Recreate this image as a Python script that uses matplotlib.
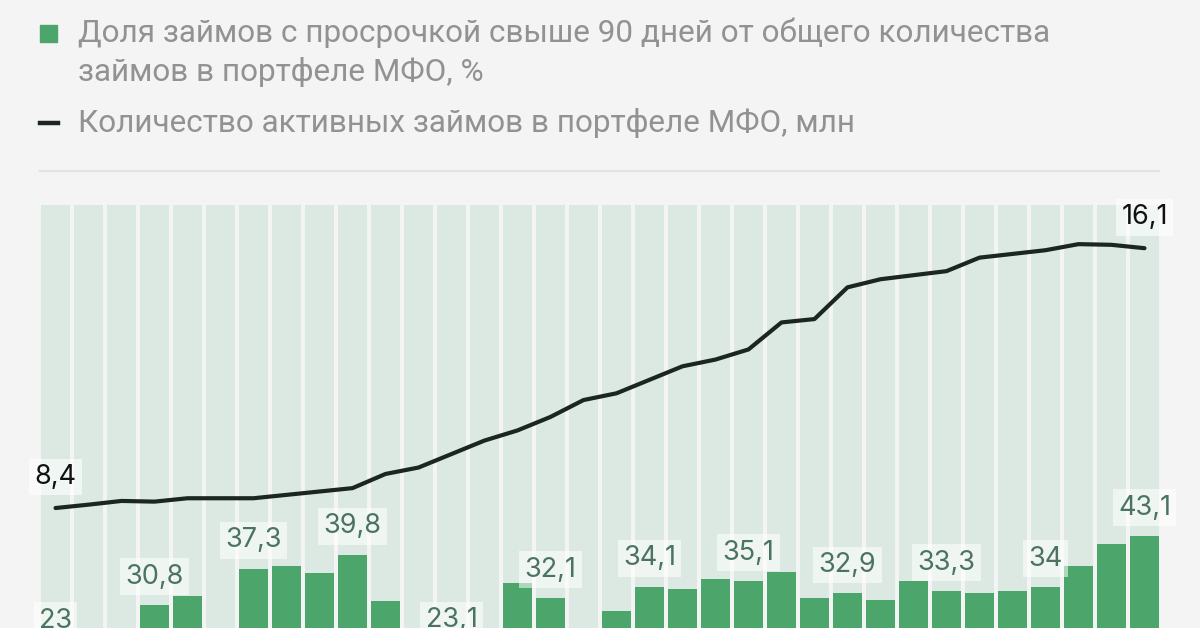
import matplotlib
matplotlib.use("Agg")
import matplotlib.pyplot as plt
from matplotlib.lines import Line2D
from matplotlib.patches import Rectangle
import numpy as np

# ---------------- data ----------------
overdue_share = [23, 24.5, 25.5, 30.8, 32.5, 26, 37.3, 37.7, 36.6, 39.8,
                 31.5, 25.5, 23.1, 24.5, 34.8, 32.1, 26.5, 29.8, 34.1, 33.7,
                 35.4, 35.1, 36.7, 32.0, 32.9, 31.7, 35.1, 33.3, 32.9, 33.3,
                 34, 37.7, 41.7, 43.1]
active_loans = [8.4, 8.5, 8.61, 8.59, 8.69, 8.69, 8.69, 8.79, 8.89, 8.99,
                9.41, 9.6, 10.0, 10.4, 10.7, 11.1, 11.6, 11.8, 12.2, 12.6,
                12.8, 13.1, 13.9, 14.0, 14.94, 15.18, 15.3, 15.42, 15.82, 15.93,
                16.04, 16.22, 16.2, 16.1]
bar_label_idx = [0, 3, 6, 9, 12, 15, 18, 21, 24, 27, 30, 33]
line_label_idx = [0, 33]

legend_bar = "Доля займов с просрочкой свыше 90 дней от общего количества\nзаймов в портфеле МФО, %"
legend_line = "Количество активных займов в портфеле МФО, млн"

# ---------------- style ----------------
BG = "#f4f4f4"
MINT = "#dce9e2"
GREEN = "#4ca66c"
LABEL_C = "#4a7461"
LINE_C = "#1c2621"
TEXT_GREY = "#929292"
LABEL_FONT = "Inter"
LEGEND_FONT = "Roboto"

W, H = 1200, 628
fig = plt.figure(figsize=(W / 100, H / 100), dpi=100, facecolor=BG)

def fx(px):
    return px / W

def fy(py):
    return (H - py) / H

# axes spanning the columns; baseline below the visible picture
left_px, right_px, top_px, base_px = 41, 1159, 205, 778
ax = fig.add_axes([fx(left_px), fy(base_px), fx(right_px - left_px), (base_px - top_px) / H])
ax.set_facecolor("none")
n = len(overdue_share)
x = np.arange(n)
ax.set_xlim(-0.44, n - 1 + 0.44)
ymax = 102.1
ax.set_ylim(0, ymax)
ax.bar(x, [ymax] * n, width=0.88, color=MINT, zorder=1)
ax.bar(x, overdue_share, width=0.88, color=GREEN, zorder=2)
for i in bar_label_idx:
    v = overdue_share[i]
    ax.annotate(f"{v:g}".replace(".", ","), (x[i], v), xytext=(0, 11),
                textcoords="offset points", ha="center", va="bottom",
                fontsize=19.5, family=LABEL_FONT, color=LABEL_C, zorder=5,
                bbox=dict(boxstyle="square,pad=0.2", fc="white", ec="none", alpha=0.55))
ax.axis("off")

ax2 = ax.twinx()
ax2.set_ylim(0.4, 17.38)
ax2.set_xlim(ax.get_xlim())
ax2.plot(x, active_loans, color=LINE_C, lw=3.0, solid_joinstyle="round", solid_capstyle="round", zorder=4)
for i in line_label_idx:
    v = active_loans[i]
    ax2.annotate(f"{v:g}".replace(".", ","), (x[i], v), xytext=(0, 13),
                 textcoords="offset points", ha="center", va="bottom",
                 fontsize=19.5, family=LABEL_FONT, color="#111111", zorder=6,
                 bbox=dict(boxstyle="square,pad=0.2", fc="white", ec="none", alpha=0.6))
ax2.axis("off")

# separator line
fig.add_artist(Line2D([fx(40), fx(1159)], [fy(171), fy(171)], color="#e3e3e3", lw=1.6))

# legend
fig.add_artist(Rectangle((fx(40), fy(42)), fx(17), 17 / H, color=GREEN, transform=fig.transFigure))
lines = legend_bar.split("\n")
fs_leg = 22.7
fig.text(fx(78), fy(42), lines[0], family=LEGEND_FONT, fontsize=fs_leg, color=TEXT_GREY, va="baseline", ha="left")
fig.text(fx(78), fy(81), lines[1], family=LEGEND_FONT, fontsize=fs_leg, color=TEXT_GREY, va="baseline", ha="left")
fig.add_artist(Line2D([fx(40), fx(58)], [fy(123), fy(123)], color=LINE_C, lw=3.2))
fig.text(fx(78), fy(132), legend_line, family=LEGEND_FONT, fontsize=fs_leg, color=TEXT_GREY, va="baseline", ha="left")

fig.savefig("out.png", dpi=100, facecolor=BG)
